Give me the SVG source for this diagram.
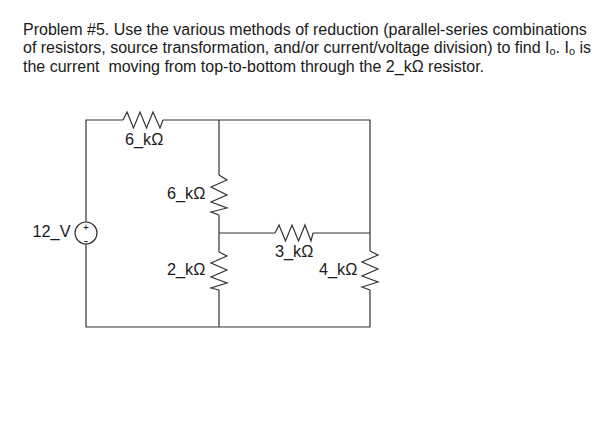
<svg xmlns="http://www.w3.org/2000/svg" width="606" height="427" viewBox="0 0 606 427">
<style>
text{font-family:"Liberation Sans",Arial,sans-serif;font-size:16px;fill:#1a1a1a;white-space:pre}
.l{font-size:16.300px}
.w{fill:none;stroke:#333;stroke-width:1.2}
.s{font-size:11px}
.p{font-size:10px}
.m{font-size:13px}
</style>
<rect width="606" height="427" fill="#fff"/>
<g id="problem-text">
<text x="23" y="35">Problem #5. Use the various methods of reduction (parallel-series combinations</text>
<text x="23" y="53">of resistors, source transformation, and/or current/voltage division) to find I<tspan class="s" dy="2">o</tspan><tspan dy="-2">. I</tspan><tspan class="s" dy="2">o</tspan><tspan dy="-2"> is</tspan></text>
<text x="23" y="72">the current  moving from top-to-bottom through the 2_kΩ resistor.</text>
</g>
<g id="connectors" class="w">
<path d="M86 222V120H123M163 120H370V251M370 290V327H86V244M219 120V175M219 215V252M219 290V327M219 233H275M313 233H370"/>
</g>
<g id="source-12V">
<circle class="w" cx="86" cy="233" r="11"/>
<text class="p" x="86" y="230.500" text-anchor="middle">+</text>
<text class="m" x="86" y="245" text-anchor="middle">-</text>
<text class="l" x="32.500" y="237">12_V</text>
</g>
<g id="r-6k-top">
<path class="w" d="M123 120L127 112L133.500 128L140 112L146.500 128L153 112L160 128L163 120"/>
<text class="l" x="125" y="145">6_kΩ</text>
</g>
<g id="r-6k-mid">
<path class="w" d="M219 175L227 180L211 187L227 195L211 202L227 208L211 212L219 215"/>
<text class="l" x="167" y="199">6_kΩ</text>
</g>
<g id="r-2k">
<path class="w" d="M219 252L227 256L211 263L227 270L211 277L227 283L211 288L219 290"/>
<text class="l" x="167" y="275">2_kΩ</text>
</g>
<g id="r-3k">
<path class="w" d="M275 233L279 225L285.500 241L292 225L298.500 241L305 225L311 241L313 233"/>
<text class="l" x="275" y="257">3_kΩ</text>
</g>
<g id="r-4k">
<path class="w" d="M370 251L378 255L362 262L378 269L362 276L378 282L362 287L370 290"/>
<text class="l" x="319" y="275">4_kΩ</text>
</g>
</svg>
